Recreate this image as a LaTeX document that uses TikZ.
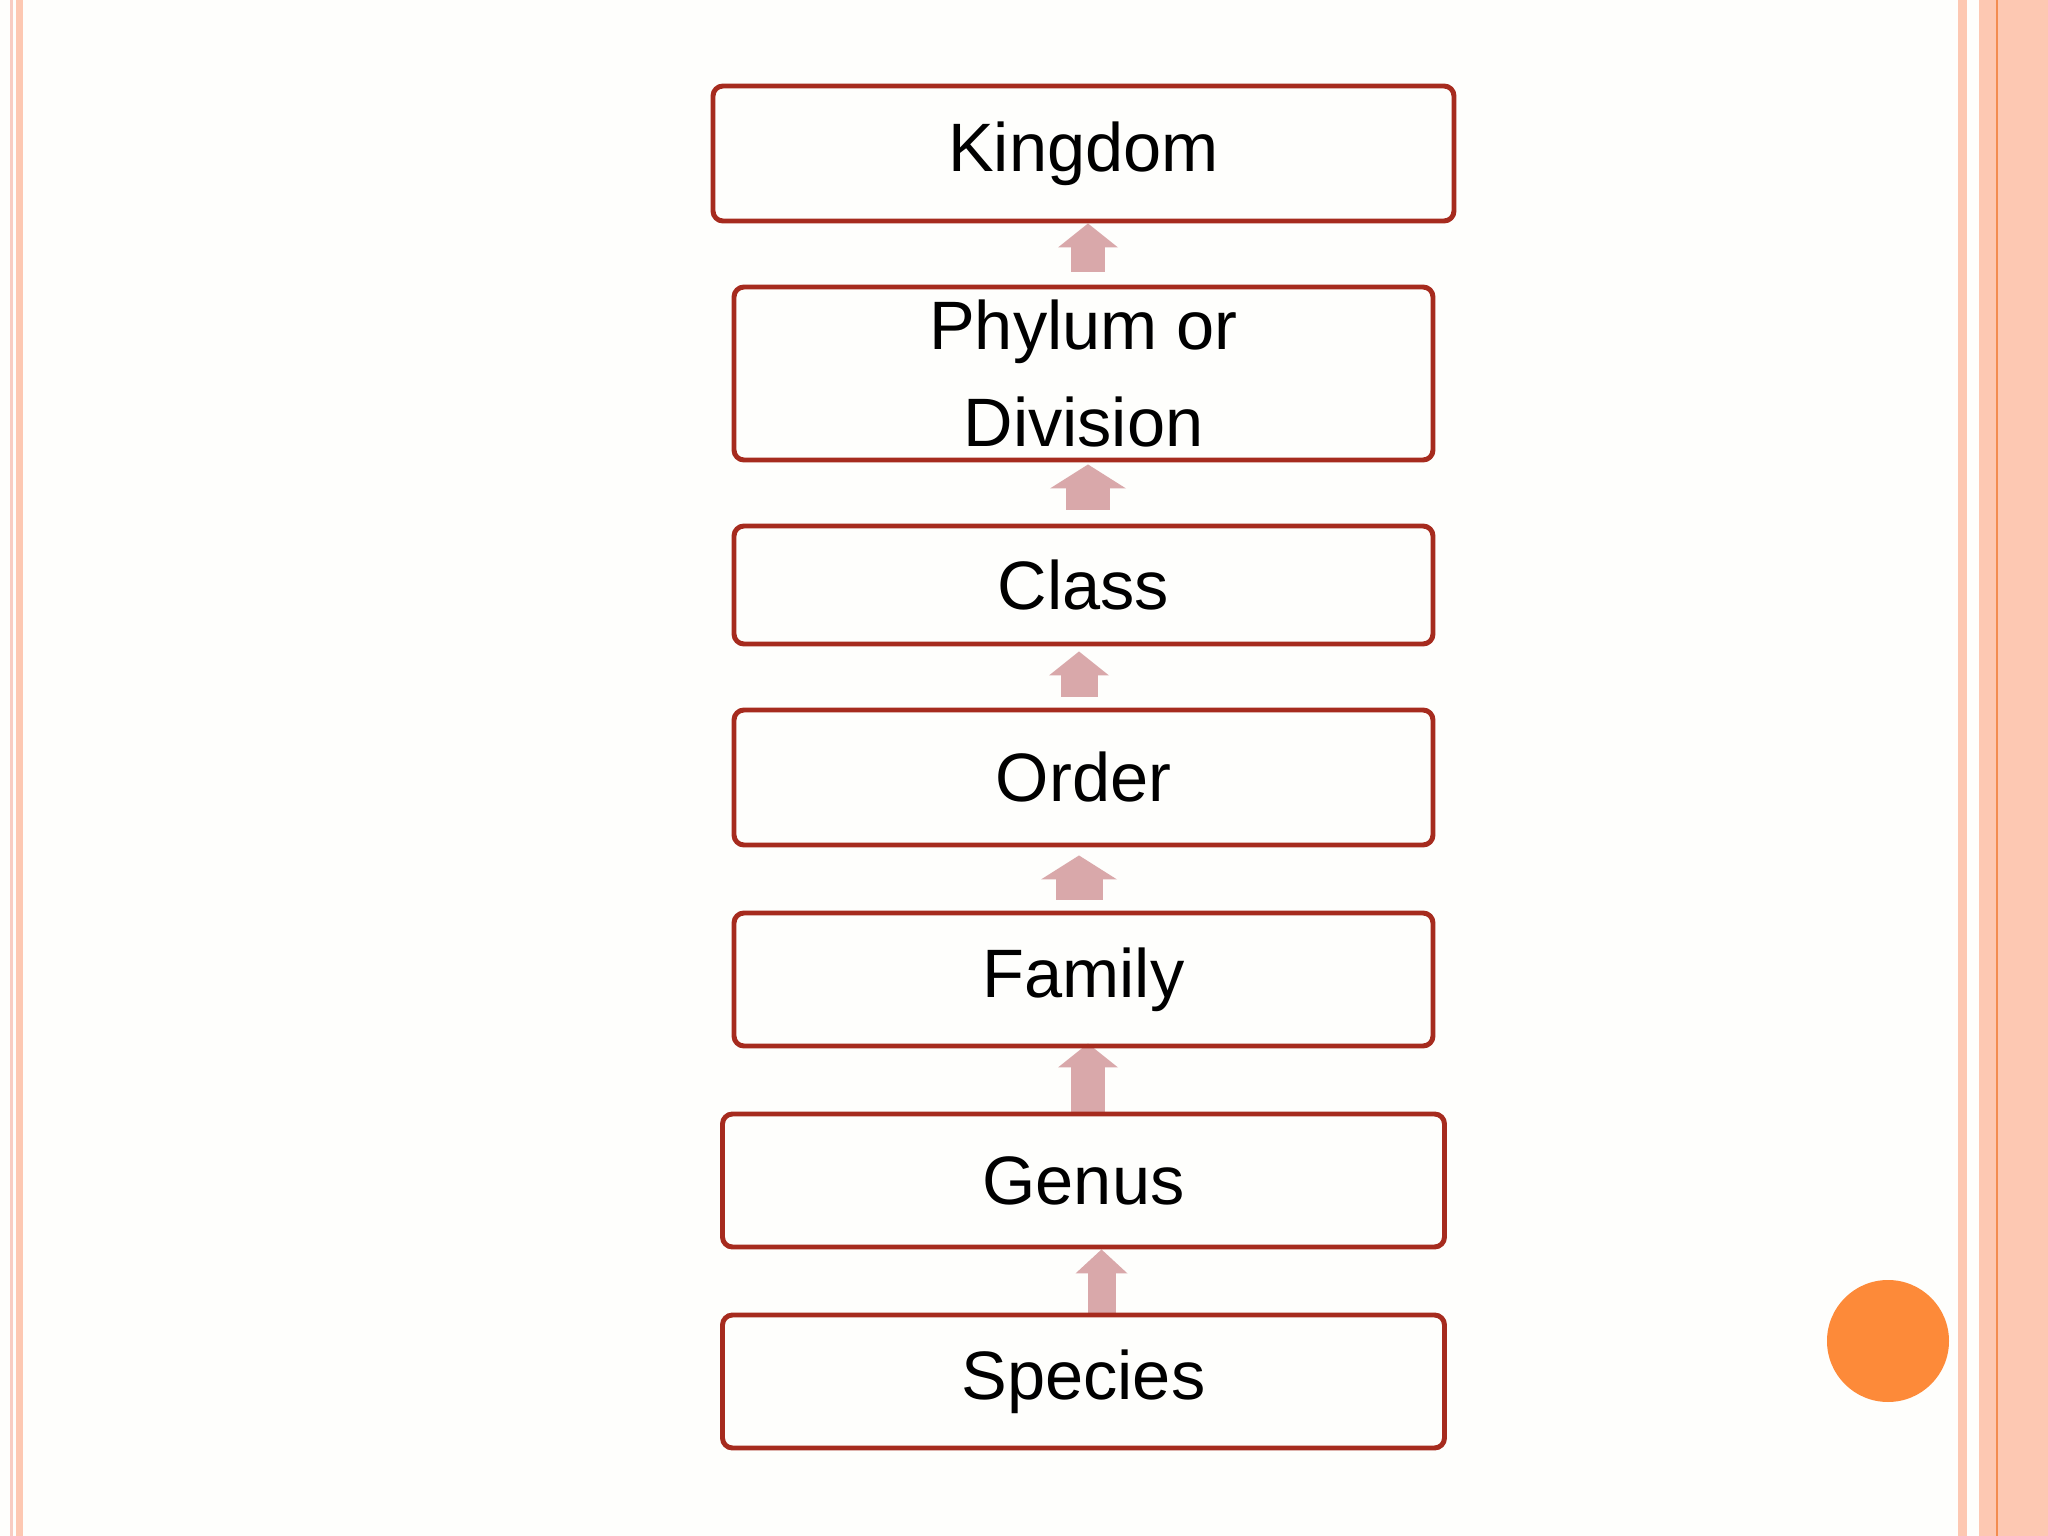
\documentclass[tikz,border=0pt]{standalone}
\usepackage{fontspec}
\setmainfont{Liberation Sans}
\usetikzlibrary{arrows.meta,backgrounds,positioning}
\definecolor{boxred}{RGB}{166,43,30}
\definecolor{arrowpink}{RGB}{217,168,170}
\definecolor{dotorange}{RGB}{253,138,57}
\definecolor{stripe}{RGB}{253,200,178}
\definecolor{stripelight}{RGB}{248,204,194}
\definecolor{stripeline}{RGB}{243,140,80}
\definecolor{pagebg}{RGB}{254,254,252}
\tikzset
{
    rankbox/.style = {rectangle, rounded corners=0.1cm, draw=boxred, line width=1.4pt, align=center, inner sep=0pt, font=\fontsize{19.5}{27.5}\selectfont},
    uparrow/.style 2 args = {draw=arrowpink, line width=#1, -{Triangle[width=#2, length=0.24cm, line width=0pt]}}
}

\begin{document}
\begin{tikzpicture}
	\newcommand\XC{10.835}
%% page
\begin{scope}[on background layer]
\fill[pagebg] (0,0) rectangle (20.48,-15.36);
\fill[stripelight] (0.10,0) rectangle (0.13,-15.36);
\fill[stripe] (0.16,0) rectangle (0.23,-15.36);
\fill[stripe] (19.58,0) rectangle (19.67,-15.36);
\fill[stripe] (19.79,0) rectangle (20.48,-15.36);
\fill[stripeline] (19.96,0) rectangle (19.98,-15.36);
\fill[dotorange] (18.88,-13.41) circle (0.61);
\end{scope}
\useasboundingbox (0,0) rectangle (20.48,-15.36);

\node (K)	[rankbox, minimum width=7.41cm, minimum height=1.35cm]	at (\XC,-1.535)		{Kingdom};
\node (P)	[rankbox, minimum width=6.99cm, minimum height=1.73cm]	at (\XC,-3.735)		{Phylum or\\Division};
\node (C)	[rankbox, minimum width=6.99cm, minimum height=1.18cm]	at (\XC,-5.85)		{Class};
\node (O)	[rankbox, minimum width=6.99cm, minimum height=1.35cm]	at (\XC,-7.775)		{Order};
\node (F)	[rankbox, minimum width=6.99cm, minimum height=1.33cm]	at (\XC,-9.795)		{Family};
\node (G)	[rankbox, minimum width=7.22cm, minimum height=1.33cm]	at (\XC,-11.805)	{Genus};
\node (Sp)	[rankbox, minimum width=7.22cm, minimum height=1.33cm]	at (\XC,-13.815)	{Species};

%% arrows, under the boxes
\begin{scope}[on background layer]
\draw[uparrow={0.34cm}{0.60cm}] ([shift={(0.045,0.13)}]P.north) -- ([xshift=0.045cm]K.south);
\draw[uparrow={0.44cm}{0.76cm}] ([shift={(0.045,0.14)}]C.north) -- ([shift={(0.045,-0.02)}]P.south);
\draw[uparrow={0.37cm}{0.60cm}] ([shift={(-0.045,0.11)}]O.north) -- ([shift={(-0.045,-0.05)}]C.south);
\draw[uparrow={0.47cm}{0.76cm}] ([shift={(-0.045,0.11)}]F.north) -- ([shift={(-0.045,-0.08)}]O.south);
\draw[uparrow={0.34cm}{0.60cm}] ([xshift=0.045cm]G.north) -- ([shift={(0.045,0.05)}]F.south);
\draw[uparrow={0.28cm}{0.52cm}] ([xshift=0.18cm]Sp.north) -- ([xshift=0.18cm]G.south);
\end{scope}
	\end{tikzpicture}
\end{document}
